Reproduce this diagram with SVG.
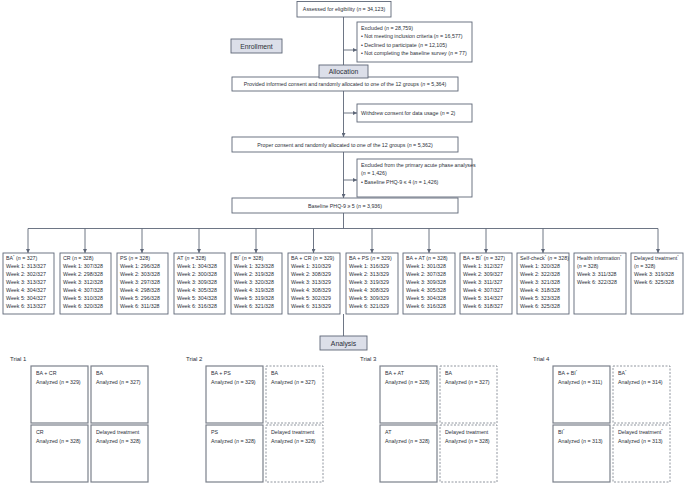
<svg xmlns="http://www.w3.org/2000/svg" width="685" height="483" viewBox="0 0 685 483">
<defs>
<marker id="ah" viewBox="0 0 6 6" refX="6" refY="3" markerWidth="4" markerHeight="4" orient="auto" markerUnits="userSpaceOnUse">
<path d="M0,0 L6,3 L0,6 z" fill="#5d6677"/>
</marker>
<style>
text{font-family:"Liberation Sans",Arial,sans-serif;fill:#2b2f38;font-size:5.3px}
.box{fill:#fff;stroke:#5d6677;stroke-width:0.9}
.lab{fill:#dcdfe9;stroke:#5d6677;stroke-width:0.9}
.labt{font-size:6.8px;text-anchor:middle}
.c{text-anchor:middle}
.tr{fill:#fff;stroke:#7b808b;stroke-width:1.2}
.trd{fill:#fff;stroke:#858a94;stroke-width:0.9;stroke-dasharray:2 1.5}
.tl{font-size:6px}
.con{fill:none;stroke:#5d6677;stroke-width:0.9}
.arr{fill:none;stroke:#5d6677;stroke-width:0.9;marker-end:url(#ah)}
.i{font-style:italic}
.s{font-size:3.5px}
</style>
</defs>

<g id="connectors">
<path class="con" d="M343.5,17 V77"/>
<path class="arr" d="M343.5,91 V137"/>
<path class="arr" d="M343.5,152 V198"/>
<path class="arr" d="M343.5,50 H357"/>
<path class="arr" d="M343.5,113 H357"/>
<path class="arr" d="M343.5,180 H357"/>
<path class="con" d="M343.5,213 V228.5 M28,228.5 H658"/>
<path class="arr" d="M28,228.5 V253"/>
<path class="arr" d="M85,228.5 V253"/>
<path class="arr" d="M142,228.5 V253"/>
<path class="arr" d="M199,228.5 V253"/>
<path class="arr" d="M256,228.5 V253"/>
<path class="arr" d="M313.5,228.5 V253"/>
<path class="arr" d="M372,228.5 V253"/>
<path class="arr" d="M429,228.5 V253"/>
<path class="arr" d="M486,228.5 V253"/>
<path class="arr" d="M543,228.5 V253"/>
<path class="arr" d="M658,228.5 V253"/>
<path class="con" d="M343.5,314 V336"/>
</g>

<g id="assessed">
<rect class="box" x="297" y="1.5" width="94" height="15.5"/>
<text class="c" x="344" y="11">Assessed for eligibility (<tspan class="i">n</tspan> = 34,123)</text>
</g>

<g id="excluded">
<rect class="box" x="357" y="22" width="115" height="40"/>
<text x="361" y="29.5">Excluded (<tspan class="i">n</tspan> = 28,759)</text>
<text x="361" y="38">• Not meeting inclusion criteria (<tspan class="i">n</tspan> = 16,577)</text>
<text x="361" y="46.5">• Declined to participate (<tspan class="i">n</tspan> = 12,105)</text>
<text x="361" y="55">• Not completing the baseline survey (<tspan class="i">n</tspan> = 77)</text>
</g>

<g id="enrollment">
<rect class="lab" x="231" y="39" width="51" height="14"/>
<text class="labt" x="256.5" y="48.5">Enrollment</text>
</g>

<g id="provided">
<rect class="box" x="232" y="77" width="226" height="14"/>
<text class="c" x="345" y="86">Provided informed consent and randomly allocated to one of the 12 groups (<tspan class="i">n</tspan> = 5,364)</text>
</g>

<g id="allocation">
<rect class="lab" x="319" y="65" width="49" height="13"/>
<text class="labt" x="343.5" y="74">Allocation</text>
</g>

<g id="withdrew">
<rect class="box" x="357" y="104" width="115" height="18"/>
<text x="361" y="115">Withdrew consent for data usage (<tspan class="i">n</tspan> = 2)</text>
</g>

<g id="proper">
<rect class="box" x="232" y="137" width="226" height="15"/>
<text class="c" x="345" y="146.5">Proper consent and randomly allocated to one of the 12 groups (<tspan class="i">n</tspan> = 5,362)</text>
</g>

<g id="excluded2">
<rect class="box" x="357" y="159" width="115" height="38"/>
<text x="361" y="167">Excluded from the primary acute phase analyses</text>
<text x="361" y="175">(<tspan class="i">n</tspan> = 1,426)</text>
<text x="361" y="184">• Baseline PHQ-9 ≤ 4 (<tspan class="i">n</tspan> = 1,426)</text>
</g>

<g id="baseline">
<rect class="box" x="232" y="198" width="226" height="15"/>
<text class="c" x="345" y="207.5">Baseline PHQ-9 ≥ 5 (<tspan class="i">n</tspan> = 3,936)</text>
</g>

<g id="g-ba">
<rect class="box" x="3" y="253" width="51" height="61"/>
<text x="6" y="259.5">BA<tspan class="s" dy="-2">*</tspan><tspan dy="2"> (</tspan><tspan class="i">n</tspan> = 327)</text>
<text x="6" y="268">Week 1: 313/327</text><text x="6" y="276">Week 2: 302/327</text><text x="6" y="284">Week 3: 313/327</text><text x="6" y="292">Week 4: 304/327</text><text x="6" y="300">Week 5: 304/327</text><text x="6" y="308">Week 6: 313/327</text>
</g>
<g id="g-cr">
<rect class="box" x="60" y="253" width="51" height="61"/>
<text x="63" y="259.5">CR (<tspan class="i">n</tspan> = 328)</text>
<text x="63" y="268">Week 1: 307/328</text><text x="63" y="276">Week 2: 298/328</text><text x="63" y="284">Week 3: 312/328</text><text x="63" y="292">Week 4: 307/328</text><text x="63" y="300">Week 5: 310/328</text><text x="63" y="308">Week 6: 320/328</text>
</g>
<g id="g-ps">
<rect class="box" x="117" y="253" width="51" height="61"/>
<text x="120" y="259.5">PS (<tspan class="i">n</tspan> = 328)</text>
<text x="120" y="268">Week 1: 296/328</text><text x="120" y="276">Week 2: 303/328</text><text x="120" y="284">Week 3: 297/328</text><text x="120" y="292">Week 4: 298/328</text><text x="120" y="300">Week 5: 296/328</text><text x="120" y="308">Week 6: 311/328</text>
</g>
<g id="g-at">
<rect class="box" x="174" y="253" width="51" height="61"/>
<text x="177" y="259.5">AT (<tspan class="i">n</tspan> = 328)</text>
<text x="177" y="268">Week 1: 304/328</text><text x="177" y="276">Week 2: 300/328</text><text x="177" y="284">Week 3: 309/328</text><text x="177" y="292">Week 4: 305/328</text><text x="177" y="300">Week 5: 304/328</text><text x="177" y="308">Week 6: 316/328</text>
</g>
<g id="g-bi">
<rect class="box" x="231" y="253" width="51" height="61"/>
<text x="234" y="259.5">BI<tspan class="s" dy="-2">*</tspan><tspan dy="2"> (</tspan><tspan class="i">n</tspan> = 328)</text>
<text x="234" y="268">Week 1: 323/328</text><text x="234" y="276">Week 2: 319/328</text><text x="234" y="284">Week 3: 320/328</text><text x="234" y="292">Week 4: 319/328</text><text x="234" y="300">Week 5: 319/328</text><text x="234" y="308">Week 6: 321/328</text>
</g>
<g id="g-bacr">
<rect class="box" x="288" y="253" width="52" height="61"/>
<text x="291" y="259.5">BA + CR (<tspan class="i">n</tspan> = 329)</text>
<text x="291" y="268">Week 1: 310/329</text><text x="291" y="276">Week 2: 308/329</text><text x="291" y="284">Week 3: 313/329</text><text x="291" y="292">Week 4: 308/329</text><text x="291" y="300">Week 5: 302/329</text><text x="291" y="308">Week 6: 313/329</text>
</g>
<g id="g-baps">
<rect class="box" x="346" y="253" width="52" height="61"/>
<text x="349" y="259.5">BA + PS (<tspan class="i">n</tspan> = 329)</text>
<text x="349" y="268">Week 1: 316/329</text><text x="349" y="276">Week 2: 313/329</text><text x="349" y="284">Week 3: 319/329</text><text x="349" y="292">Week 4: 308/329</text><text x="349" y="300">Week 5: 309/329</text><text x="349" y="308">Week 6: 321/329</text>
</g>
<g id="g-baat">
<rect class="box" x="403" y="253" width="52" height="61"/>
<text x="406" y="259.5">BA + AT (<tspan class="i">n</tspan> = 328)</text>
<text x="406" y="268">Week 1: 301/328</text><text x="406" y="276">Week 2: 307/328</text><text x="406" y="284">Week 3: 309/328</text><text x="406" y="292">Week 4: 305/328</text><text x="406" y="300">Week 5: 304/328</text><text x="406" y="308">Week 6: 316/328</text>
</g>
<g id="g-babi">
<rect class="box" x="460" y="253" width="52" height="61"/>
<text x="463" y="259.5">BA + BI<tspan class="s" dy="-2">*</tspan><tspan dy="2"> (</tspan><tspan class="i">n</tspan> = 327)</text>
<text x="463" y="268">Week 1: 312/327</text><text x="463" y="276">Week 2: 309/327</text><text x="463" y="284">Week 3: 311/327</text><text x="463" y="292">Week 4: 307/327</text><text x="463" y="300">Week 5: 314/327</text><text x="463" y="308">Week 6: 318/327</text>
</g>
<g id="g-self">
<rect class="box" x="517" y="253" width="52" height="61"/>
<text x="520" y="259.5">Self-check<tspan class="s" dy="-2">*</tspan><tspan dy="2"> (</tspan><tspan class="i">n</tspan> = 328)</text>
<text x="520" y="268">Week 1: 320/328</text><text x="520" y="276">Week 2: 322/328</text><text x="520" y="284">Week 3: 321/328</text><text x="520" y="292">Week 4: 318/328</text><text x="520" y="300">Week 5: 323/328</text><text x="520" y="308">Week 6: 325/328</text>
</g>
<g id="g-health">
<rect class="box" x="574" y="253" width="52" height="61"/>
<text x="577" y="259.5">Health information<tspan class="s" dy="-2">*</tspan></text>
<text x="577" y="268">(<tspan class="i">n</tspan> = 328)</text>
<text x="577" y="276">Week 3: 311/328</text><text x="577" y="284">Week 6: 322/328</text>
</g>
<g id="g-delayed">
<rect class="box" x="631" y="253" width="52" height="61"/>
<text x="634" y="259.5">Delayed treatment<tspan class="s" dy="-2">*</tspan></text>
<text x="634" y="268">(<tspan class="i">n</tspan> = 328)</text>
<text x="634" y="276">Week 3: 319/328</text><text x="634" y="284">Week 6: 325/328</text>
</g>

<g id="analysis">
<rect class="lab" x="320" y="336" width="47" height="14"/>
<text class="labt" x="343.5" y="345.5">Analysis</text>
</g>

<g id="trial1">
<text class="tl" x="10" y="361">Trial 1</text>
<rect class="tr" x="31" y="366" width="57" height="57"/>
<text x="36" y="375">BA + CR</text><text x="36" y="384">Analyzed (<tspan class="i">n</tspan> = 329)</text>
<rect class="tr" x="91" y="366" width="57" height="57"/>
<text x="96" y="375">BA</text><text x="96" y="384">Analyzed (<tspan class="i">n</tspan> = 327)</text>
<rect class="tr" x="31" y="425" width="57" height="57"/>
<text x="36" y="434">CR</text><text x="36" y="443">Analyzed (<tspan class="i">n</tspan> = 328)</text>
<rect class="tr" x="91" y="425" width="57" height="57"/>
<text x="96" y="434">Delayed treatment</text><text x="96" y="443">Analyzed (<tspan class="i">n</tspan> = 328)</text>
</g>

<g id="trial2">
<text class="tl" x="186" y="361">Trial 2</text>
<rect class="tr" x="206" y="366" width="57" height="57"/>
<text x="211" y="375">BA + PS</text><text x="211" y="384">Analyzed (<tspan class="i">n</tspan> = 329)</text>
<rect class="trd" x="266" y="366" width="57" height="57"/>
<text x="271" y="375">BA</text><text x="271" y="384">Analyzed (<tspan class="i">n</tspan> = 327)</text>
<rect class="tr" x="206" y="425" width="57" height="57"/>
<text x="211" y="434">PS</text><text x="211" y="443">Analyzed (<tspan class="i">n</tspan> = 328)</text>
<rect class="trd" x="266" y="425" width="57" height="57"/>
<text x="271" y="434">Delayed treatment</text><text x="271" y="443">Analyzed (<tspan class="i">n</tspan> = 328)</text>
</g>

<g id="trial3">
<text class="tl" x="360" y="361">Trial 3</text>
<rect class="tr" x="380" y="366" width="57" height="57"/>
<text x="385" y="375">BA + AT</text><text x="385" y="384">Analyzed (<tspan class="i">n</tspan> = 328)</text>
<rect class="trd" x="440" y="366" width="57" height="57"/>
<text x="445" y="375">BA</text><text x="445" y="384">Analyzed (<tspan class="i">n</tspan> = 327)</text>
<rect class="tr" x="380" y="425" width="57" height="57"/>
<text x="385" y="434">AT</text><text x="385" y="443">Analyzed (<tspan class="i">n</tspan> = 328)</text>
<rect class="trd" x="440" y="425" width="57" height="57"/>
<text x="445" y="434">Delayed treatment</text><text x="445" y="443">Analyzed (<tspan class="i">n</tspan> = 328)</text>
</g>

<g id="trial4">
<text class="tl" x="533" y="361">Trial 4</text>
<rect class="tr" x="553" y="366" width="57" height="57"/>
<text x="558" y="375">BA + BI<tspan class="s" dy="-2">*</tspan></text><text x="558" y="384">Analyzed (<tspan class="i">n</tspan> = 311)</text>
<rect class="trd" x="613" y="366" width="57" height="57"/>
<text x="618" y="375">BA<tspan class="s" dy="-2">*</tspan></text><text x="618" y="384">Analyzed (<tspan class="i">n</tspan> = 314)</text>
<rect class="tr" x="553" y="425" width="57" height="57"/>
<text x="558" y="434">BI<tspan class="s" dy="-2">*</tspan></text><text x="558" y="443">Analyzed (<tspan class="i">n</tspan> = 313)</text>
<rect class="trd" x="613" y="425" width="57" height="57"/>
<text x="618" y="434">Delayed treatment<tspan class="s" dy="-2">*</tspan></text><text x="618" y="443">Analyzed (<tspan class="i">n</tspan> = 313)</text>
</g>
</svg>
